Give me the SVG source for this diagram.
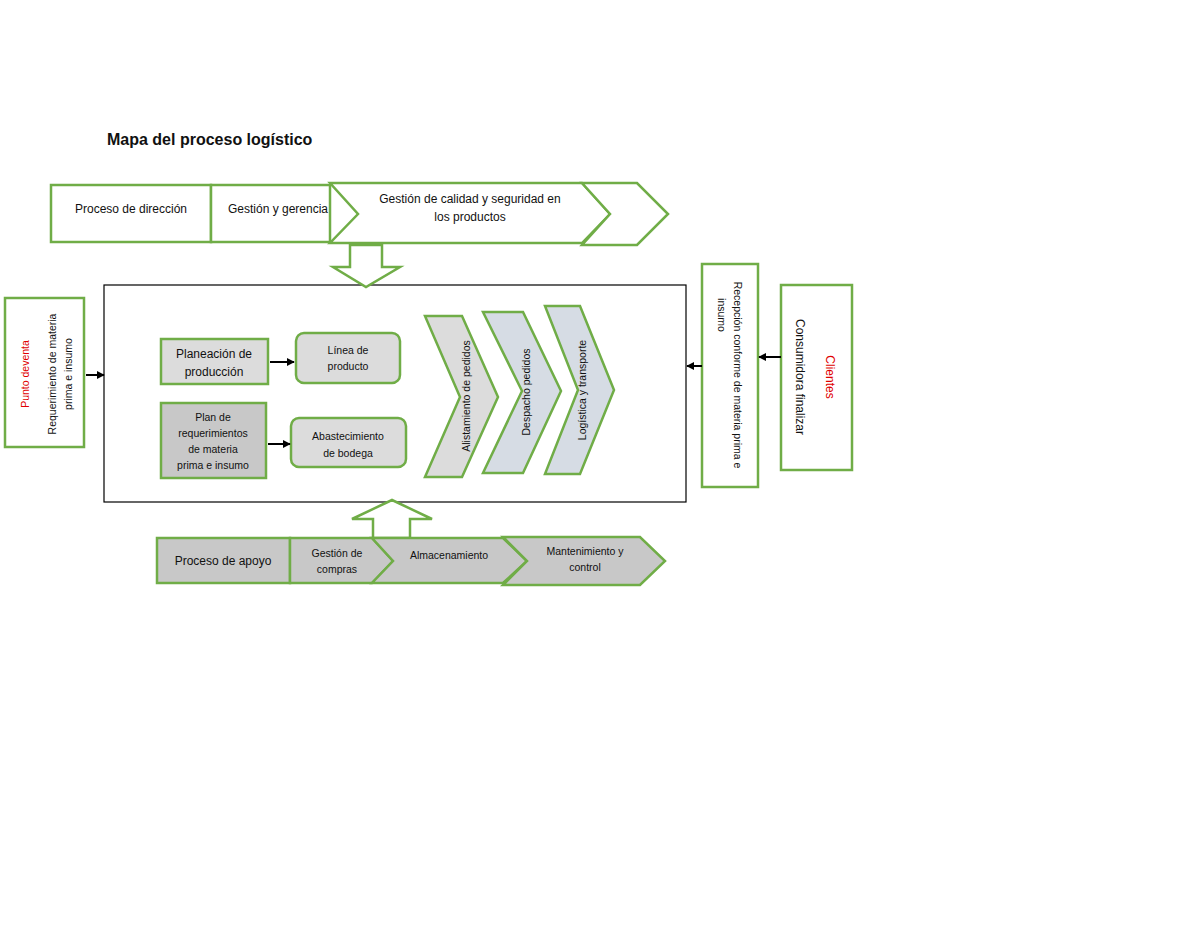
<svg xmlns="http://www.w3.org/2000/svg" width="1200" height="927" viewBox="0 0 1200 927">
<style>
text{font-family:"Liberation Sans",Arial,sans-serif;font-size:12px;fill:#111;text-anchor:middle}
.g{stroke:#70ad47;stroke-width:2.5;fill:#fff}
.gl{stroke:#70ad47;stroke-width:2.5;fill:#dcdcdc}
.gd{stroke:#70ad47;stroke-width:2.5;fill:#c8c8c8}
.gb{stroke:#70ad47;stroke-width:2.5;fill:#d6dce4}
.s{font-size:10.5px}
.r{fill:#e00000}
.c{stroke:#000;stroke-width:2;fill:none}
</style>
<defs><marker id="a" viewBox="0 0 10 10" refX="9" refY="5" markerWidth="4" markerHeight="4" orient="auto"><path d="M0,0L10,5L0,10z" fill="#000"/></marker></defs>
<rect width="1200" height="927" fill="#fff"/>
<text x="107" y="145" style="font-weight:bold;font-size:16px;text-anchor:start">Mapa del proceso logístico</text>
<g id="box-main"><rect x="104" y="285" width="582" height="217" fill="none" stroke="#000" stroke-width="1.2"/></g>
<g id="direccion"><rect class="g" x="51" y="185" width="160" height="57"/><text x="131" y="213">Proceso de dirección</text></g>
<g id="gerencia"><rect class="g" x="211" y="185" width="119" height="57"/><text x="278" y="213">Gestión y gerencia</text></g>
<g id="calidad"><polygon class="g" points="330,183 582,183 610,214 582,243 330,243 358,214"/><text x="470" y="203">Gestión de calidad y seguridad en</text><text x="470" y="221">los productos</text></g>
<g id="chev-top"><polygon class="g" points="582,183 637,183 668,214 637,245 582,245 610,214"/></g>
<g id="down-arrow"><polygon class="g" points="350,245 382,245 382,267 400,267 366,287 333,267 350,267"/></g>
<g id="punto"><rect class="g" x="5" y="298" width="79" height="149"/><text transform="translate(29,374) rotate(-90)" class="s r">Punto deventa</text><text transform="translate(56,374) rotate(-90)" class="s">Requerimiento de materia</text><text transform="translate(72,374) rotate(-90)" class="s">prima e insumo</text></g>
<g id="planeacion"><rect class="gl" x="161" y="339" width="107" height="45"/><text x="214" y="358">Planeación de</text><text x="214" y="376">producción</text></g>
<g id="linea"><rect class="gl" x="296" y="333" width="104" height="50" rx="8"/><text class="s" x="348" y="354">Línea de</text><text class="s" x="348" y="370">producto</text></g>
<g id="plan"><rect class="gd" x="161" y="403" width="105" height="75"/><text class="s" x="213" y="421">Plan de</text><text class="s" x="213" y="437">requerimientos</text><text class="s" x="213" y="453">de materia</text><text class="s" x="213" y="469">prima e insumo</text></g>
<g id="abastecimiento"><rect class="gl" x="291" y="418" width="115" height="49" rx="8"/><text class="s" x="348" y="440">Abastecimiento</text><text class="s" x="348" y="457">de bodega</text></g>
<g id="alistamiento"><polygon class="gl" points="425,316 462,316 498,397 462,477 425,477 460,397"/><text class="s" transform="translate(470,396) rotate(-90)">Alistamiento de pedidos</text></g>
<g id="despacho"><polygon class="gb" points="483,312 523,312 561,391 523,473 483,473 522,391"/><text class="s" transform="translate(530,392) rotate(-90)">Despacho pedidos</text></g>
<g id="logistica"><polygon class="gb" points="545,306 580,306 614,390 580,474 545,474 578,390"/><text class="s" transform="translate(586,390) rotate(-90)">Logística y transporte</text></g>
<g id="recepcion"><rect class="g" x="702" y="264" width="56" height="223"/><text class="s" transform="translate(734,375) rotate(90)">Recepción conforme de materia prima e</text><text class="s" transform="translate(718,315) rotate(90)">insumo</text></g>
<g id="clientes"><rect class="g" x="781" y="285" width="71" height="185"/><text transform="translate(826,377) rotate(90)" class="r">Clientes</text><text transform="translate(796,377) rotate(90)">Consumidora finalizar</text></g>
<g id="up-arrow"><polygon class="g" points="373,538 410,538 410,519 432,519 392,500 352,519 373,519"/></g>
<g id="apoyo"><rect class="gd" x="157" y="538" width="133" height="45"/><text x="223" y="565">Proceso de apoyo</text></g>
<g id="compras"><polygon class="gd" points="290,538 372,538 393,561 372,583 290,583"/><text class="s" x="337" y="557">Gestión de</text><text class="s" x="337" y="573">compras</text></g>
<g id="almacenamiento"><polygon class="gd" points="372,538 503,538 527,561 503,583 372,583 393,561"/><text class="s" x="449" y="559">Almacenamiento</text></g>
<g id="mantenimiento"><polygon class="gd" points="503,537 640,537 665,561 640,585 503,585 527,561"/><text class="s" x="585" y="555">Mantenimiento y</text><text class="s" x="585" y="571">control</text></g>
<g id="connectors">
<line class="c" x1="86" y1="375" x2="104" y2="375" marker-end="url(#a)"/>
<line class="c" x1="270" y1="362" x2="294" y2="362" marker-end="url(#a)"/>
<line class="c" x1="268" y1="444" x2="290" y2="444" marker-end="url(#a)"/>
<line class="c" x1="702" y1="366" x2="687" y2="366" marker-end="url(#a)"/>
<line class="c" x1="781" y1="357" x2="759" y2="357" marker-end="url(#a)"/>
</g>
</svg>
